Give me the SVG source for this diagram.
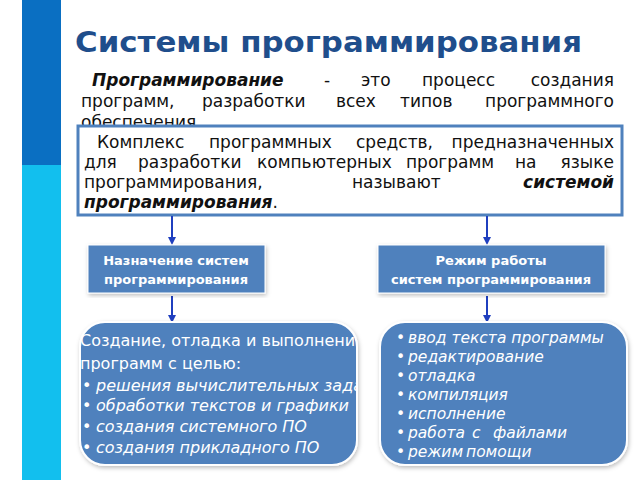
<svg xmlns="http://www.w3.org/2000/svg" width="640" height="480" viewBox="0 0 640 480">
<style>
text{font-family:"DejaVu Sans","Liberation Sans",sans-serif}
.p{font-size:17px;fill:#111}
.e{text-anchor:end}
.bi{font-weight:bold;font-style:italic}
.h{font-size:13px;font-weight:bold;fill:#fff;text-anchor:middle}
.w{font-size:15.5px;fill:#fff}
.lw{font-size:16px}
.i{font-style:italic}
.a{stroke:#1f3fbf;stroke-width:2;fill:none;marker-end:url(#m)}
.b{fill:#4f81bd}
</style>
<defs>
<marker id="m" markerWidth="8" markerHeight="8" refX="6" refY="4" orient="auto" markerUnits="userSpaceOnUse"><path d="M0,0 L8,4 L0,8 Z" fill="#1f3fbf"/></marker>
<clipPath id="cl"><rect x="80" y="322" width="277" height="143" rx="25"/></clipPath>
<filter id="s" x="-5%" y="-5%" width="110%" height="115%"><feDropShadow dx="1" dy="2" stdDeviation="2" flood-color="#000" flood-opacity="0.25"/></filter>
</defs>
<rect x="22" y="0" width="39" height="165" fill="#0a6fc2"/>
<rect x="22" y="165" width="39" height="315" fill="#12bfee"/>
<text x="75" y="52" font-size="28" font-weight="bold" fill="#1f4e8c" textLength="507" lengthAdjust="spacingAndGlyphs">Системы программирования</text>
<g id="def">
<text class="p" y="86"><tspan x="92" class="bi">Программирование</tspan><tspan x="324">-</tspan><tspan x="361">это</tspan><tspan x="422">процесс</tspan></text>
<text class="p e" x="614" y="86">создания</text>
<text class="p" y="107"><tspan x="81">программ,</tspan><tspan x="202">разработки</tspan><tspan x="336">всех</tspan><tspan x="400">типов</tspan></text>
<text class="p e" x="614" y="107">программного</text>
<text class="p" x="81" y="128">обеспечения.</text>
</g>
<g id="main">
<rect x="78" y="126" width="544" height="89" fill="#fff" stroke="#4f81bd" stroke-width="3"/>
<text class="p" y="148"><tspan x="97">Комплекс</tspan><tspan x="209">программных</tspan><tspan x="356">средств,</tspan></text>
<text class="p e" x="614" y="148">предназначенных</text>
<text class="p" y="168"><tspan x="84">для</tspan><tspan x="138">разработки</tspan><tspan x="257">компьютерных</tspan><tspan x="406">программ</tspan><tspan x="515">на</tspan></text>
<text class="p e" x="614" y="168">языке</text>
<text class="p" y="188"><tspan x="84">программирования,</tspan><tspan x="352">называют</tspan></text>
<text class="p e bi" x="614" y="188">системой</text>
<text class="p" y="208" x="84"><tspan class="bi">программирования</tspan>.</text>
</g>
<g id="connectors">
<line class="a" x1="172" y1="216" x2="172" y2="243"/>
<line class="a" x1="487" y1="216" x2="487" y2="243"/>
<line class="a" x1="172" y1="296" x2="172" y2="321"/>
<line class="a" x1="487" y1="296" x2="487" y2="321"/>
</g>
<g id="n1">
<rect class="b" x="88" y="245" width="177" height="48" stroke="#fff" stroke-width="1" filter="url(#s)"/>
<text class="h" x="176" y="265">Назначение систем</text>
<text class="h" x="176" y="284">программирования</text>
</g>
<g id="n2">
<rect class="b" x="378" y="245" width="227" height="48" stroke="#fff" stroke-width="1" filter="url(#s)"/>
<text class="h" x="491" y="265">Режим работы</text>
<text class="h" x="491" y="284">систем программирования</text>
</g>
<g id="n3">
<rect class="b" x="80" y="322" width="277" height="143" rx="25" stroke="#fff" stroke-width="2" filter="url(#s)"/>
<g clip-path="url(#cl)">
<text class="w lw" x="80" y="346">Создание, отладка и выполнение</text>
<text class="w lw" x="80" y="369">программ с целью:</text>
<text class="w lw" y="391"><tspan x="82">•</tspan><tspan x="96" class="i">решения вычислительных задач</tspan></text>
<text class="w lw" y="411"><tspan x="82">•</tspan><tspan x="96" class="i">обработки текстов и графики</tspan></text>
<text class="w lw" y="432"><tspan x="82">•</tspan><tspan x="96" class="i">создания системного ПО</tspan></text>
<text class="w lw" y="453"><tspan x="82">•</tspan><tspan x="96" class="i">создания прикладного ПО</tspan></text>
</g>
</g>
<g id="n4">
<rect class="b" x="380" y="322" width="247" height="143" rx="25" stroke="#fff" stroke-width="2" filter="url(#s)"/>
<text class="w" y="343"><tspan x="396">•</tspan><tspan x="408" class="i">ввод текста программы</tspan></text>
<text class="w" y="362"><tspan x="396">•</tspan><tspan x="408" class="i">редактирование</tspan></text>
<text class="w" y="381"><tspan x="396">•</tspan><tspan x="408" class="i">отладка</tspan></text>
<text class="w" y="400"><tspan x="396">•</tspan><tspan x="408" class="i">компиляция</tspan></text>
<text class="w" y="419"><tspan x="396">•</tspan><tspan x="408" class="i">исполнение</tspan></text>
<text class="w i" y="438"><tspan x="396" font-style="normal">•</tspan><tspan x="408">работа</tspan><tspan x="472">с</tspan><tspan x="493">файлами</tspan></text>
<text class="w i" y="457"><tspan x="396" font-style="normal">•</tspan><tspan x="408">режим</tspan><tspan x="466">помощи</tspan></text>
</g>
</svg>
